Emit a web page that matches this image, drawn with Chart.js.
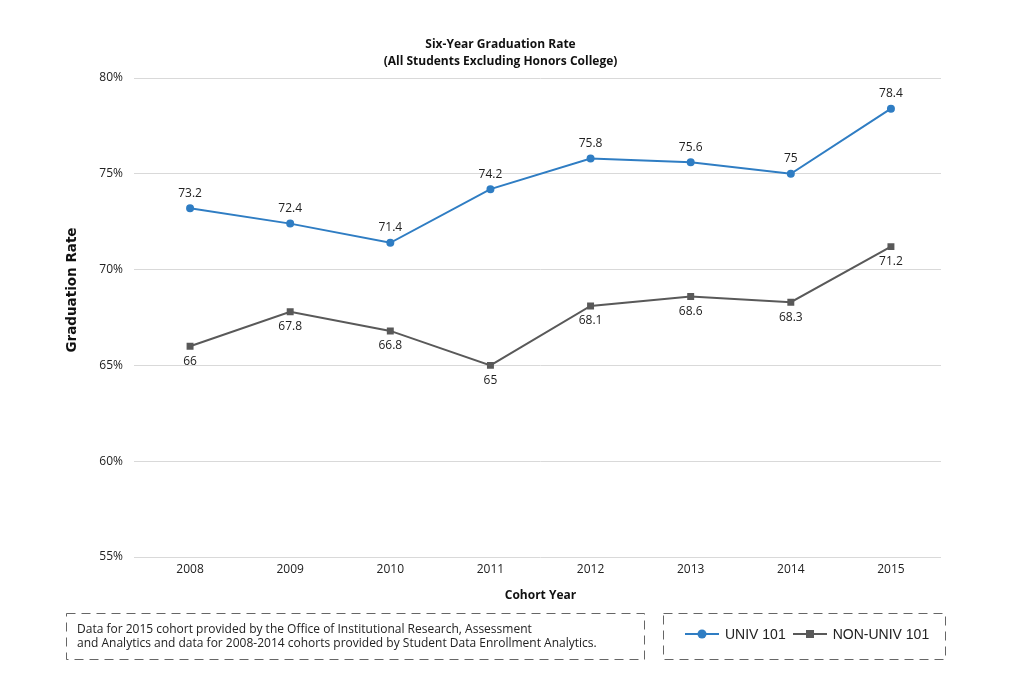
<!DOCTYPE html>
<html>
<head>
<meta charset="utf-8">
<script src="https://cdn.jsdelivr.net/npm/chart.js@4.4.1/dist/chart.umd.min.js"></script>
<style>
  body { margin: 0; background: #fff; }
  #wrap { position: relative; width: 1024px; height: 683px; }
  #myChart { position: absolute; left: 0; top: 0; }
  #note {
    position: absolute; left: 77px; top: 622px;
    font: 12px "Open Sans", sans-serif; line-height: 14px; color: #222;
  }
  #legend {
    position: absolute; left: 685px; top: 626px; display: flex; align-items: center;
    font: 14px "Liberation Sans", Arial, sans-serif; color: #222;
  }
  .item { display: flex; align-items: center; margin-right: 7px; }
  .mark { position: relative; width: 34px; height: 16px; margin-right: 6px; }
  .mark .ln { position: absolute; left: 0; right: 0; top: 7px; height: 2px; }
  .mark .pt { position: absolute; left: 50%; top: 50%; transform: translate(-50%, -50%); }
</style>
</head>
<body>
<div id="wrap">
  <canvas id="myChart" width="1024" height="683"></canvas>
  <div id="note">Data for 2015 cohort provided by the Office of Institutional Research, Assessment<br>and Analytics and data for 2008-2014 cohorts provided by Student Data Enrollment Analytics.</div>
  <div id="legend"></div>
</div>
<script>
// DATA
const years = ['2008', '2009', '2010', '2011', '2012', '2013', '2014', '2015']
const univ101 = [73.2, 72.4, 71.4, 74.2, 75.8, 75.6, 75, 78.4]
const nonUniv101 = [66, 67.8, 66.8, 65, 68.1, 68.6, 68.3, 71.2]
const yTicks = [55, 60, 65, 70, 75, 80]

const blue = '#2f7dc3'
const grey = '#595959'

// point labels above (univ) and below (non-univ)
const pointLabels = {
  id: 'pointLabels',
  afterDatasetsDraw(chart) {
    const ctx = chart.ctx
    ctx.save()
    ctx.font = '12px "Open Sans", sans-serif'
    ctx.fillStyle = '#222'
    ctx.textAlign = 'center'
    ctx.textBaseline = 'middle'
    chart.data.datasets.forEach((ds, i) => {
      const meta = chart.getDatasetMeta(i)
      meta.data.forEach((pt, j) => {
        const dy = ds.labelPos === 'above' ? -15 : 15
        ctx.fillText(String(ds.data[j]), pt.x, pt.y + dy)
      })
    })
    ctx.restore()
  }
}

// y title sits a bit above the middle of the axis in the original
const yTitle = {
  id: 'yTitle',
  afterDraw(chart) {
    const ctx = chart.ctx
    ctx.save()
    ctx.translate(72, 290)
    ctx.rotate(-Math.PI / 2)
    ctx.font = 'bold 13.5px "DejaVu Sans", sans-serif'
    ctx.fillStyle = '#111'
    ctx.textAlign = 'center'
    ctx.textBaseline = 'middle'
    ctx.fillText('Graduation Rate', 0, 0)
    ctx.restore()
  }
}

// dashed boxes round note and legend
const dashedBoxes = {
  id: 'dashedBoxes',
  afterDraw(chart) {
    const ctx = chart.ctx
    ctx.save()
    ctx.strokeStyle = '#666'
    ctx.lineWidth = 1
    ctx.setLineDash([9, 6])
    ctx.strokeRect(66.5, 613.5, 578, 46)
    ctx.strokeRect(663.5, 613.5, 282, 46)
    ctx.restore()
  }
}

const ctx = document.getElementById('myChart').getContext('2d')

const myChart = new Chart(ctx, {
  type: 'line',
  data: {
    labels: years,
    datasets: [{
      label: 'UNIV 101',
      data: univ101,
      borderColor: blue,
      backgroundColor: blue,
      borderWidth: 2,
      pointStyle: 'circle',
      pointRadius: 3,
      labelPos: 'above'
    }, {
      label: 'NON-UNIV 101',
      data: nonUniv101,
      borderColor: grey,
      backgroundColor: grey,
      borderWidth: 2,
      pointStyle: 'rect',
      pointRadius: 3.5,
      labelPos: 'below'
    }]
  },
  options: {
    responsive: false,
    animation: false,
    layout: { padding: { left: 60, right: 83, top: 0, bottom: 76 } },
    plugins: {
      legend: { display: false },
      tooltip: { enabled: false },
      title: {
        display: true,
        text: ['Six-Year Graduation Rate', '(All Students Excluding Honors College)'],
        color: '#111',
        font: { family: '"Open Sans", sans-serif', size: 12, weight: 'bold', lineHeight: 1.4 },
        padding: { top: 36.6, bottom: 7.8 }
      }
    },
    scales: {
      x: {
        offset: true,
        grid: { display: false, drawTicks: false },
        border: { display: false },
        ticks: { color: '#222', padding: 5, font: { family: '"Open Sans", sans-serif', size: 12 } },
        title: {
          display: true,
          text: 'Cohort Year',
          color: '#111',
          font: { family: '"Open Sans", sans-serif', size: 12, weight: 'bold' },
          padding: { top: 4, bottom: 4 }
        },
        afterFit: s => { s.height = 50 }
      },
      y: {
        min: 55,
        max: 80,
        grid: { color: '#d9d9d9', tickLength: 6, drawTicks: true },
        border: { display: false },
        afterBuildTicks: s => { s.ticks = yTicks.map(v => ({ value: v })) },
        ticks: {
          color: '#222',
          padding: 11,
          font: { family: '"Open Sans", sans-serif', size: 12 },
          callback: v => v + '%'
        },
        afterFit: s => { s.width = 80 }
      }
    }
  },
  plugins: [pointLabels, yTitle, dashedBoxes]
})

// html legend built from the datasets
const legendEl = document.getElementById('legend')
myChart.data.datasets.forEach(ds => {
  const item = document.createElement('div')
  item.className = 'item'
  const round = ds.pointStyle === 'circle'
  const size = round ? 9 : 8
  item.innerHTML =
    `<span class="mark"><span class="ln" style="background:${ds.borderColor}"></span>` +
    `<span class="pt" style="width:${size}px;height:${size}px;background:${ds.borderColor};border-radius:${round ? '50%' : '0'}"></span></span>` +
    `<span>${ds.label}</span>`
  legendEl.appendChild(item)
})
</script>
</body>
</html>
